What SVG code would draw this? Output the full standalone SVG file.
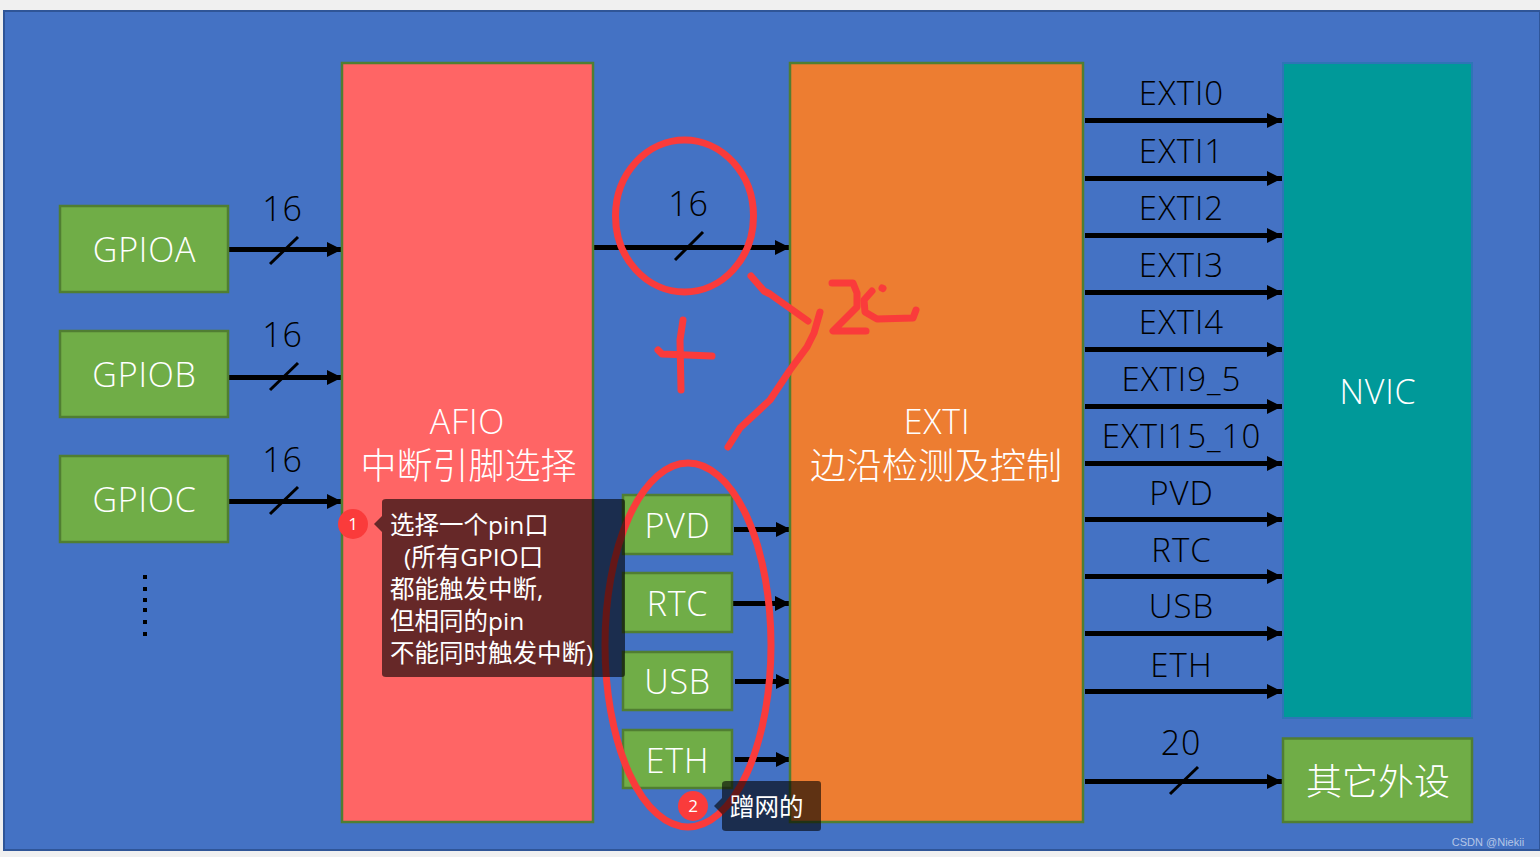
<svg xmlns="http://www.w3.org/2000/svg" width="1540" height="857" viewBox="0 0 1540 857">
<style>
text{font-family:"Open Sans","Noto Sans CJK SC",sans-serif;text-anchor:middle;font-weight:300}
.w{fill:#fff}
.k{fill:#000}
.s32{font-size:33px;letter-spacing:1px}
.s33{font-size:34px;letter-spacing:.8px}
.box{fill:#70ad47;stroke:#507e32;stroke-width:2.500}
.line{fill:none;stroke:#000;stroke-width:5;marker-end:url(#ah)}
.sl{fill:none;stroke:#000;stroke-width:3}
.red{fill:none;stroke:#fa3b3b;stroke-width:7;stroke-linecap:round;stroke-linejoin:round}
.tip{fill:#000;fill-opacity:.6}
.tt{fill:#fff;font-size:24.500px;text-anchor:start;font-weight:400}
.bd{fill:#fa3b3b}
.bt{fill:#fff;font-size:17px;font-weight:400}
</style>
<defs><marker id="ah" markerUnits="userSpaceOnUse" markerWidth="16" markerHeight="16" refX="15" refY="8" orient="auto"><path d="M0 0.500L15 8L0 15.500Z" fill="#000"/></marker></defs>
<rect width="1540" height="857" fill="#f0f0f0"/>
<rect x="4" y="11" width="1536" height="839" fill="#4472c4" stroke="#2f5597" stroke-width="2"/>
<g id="connectors">
<path class="line" d="M229 249.500H342"/><path class="sl" d="M270 264L298 237"/>
<path class="line" d="M229 377.500H342"/><path class="sl" d="M270 390L298 363"/>
<path class="line" d="M229 501.500H342"/><path class="sl" d="M270 514L298 487"/>
<path class="line" d="M593 247.500H790"/><path class="sl" d="M675 260L703 232"/>
<path class="line" d="M734 529.500H791"/><path class="line" d="M733 603.500H790"/><path class="line" d="M735 681.500H791"/><path class="line" d="M735 759.500H791"/>
<path class="line" d="M1085 120.500H1282"/><path class="line" d="M1085 178.500H1282"/><path class="line" d="M1085 235.500H1282"/><path class="line" d="M1085 292.500H1282"/><path class="line" d="M1085 349.500H1282"/><path class="line" d="M1085 406.500H1282"/><path class="line" d="M1085 463.500H1282"/><path class="line" d="M1085 519.500H1282"/><path class="line" d="M1085 576.500H1282"/><path class="line" d="M1085 633.500H1282"/><path class="line" d="M1085 691.500H1282"/><path class="line" d="M1085 781.500H1282"/><path class="sl" d="M1170 794L1198 767"/>
</g>
<g id="labels" class="k">
<text class="s33" x="282.500" y="221">16</text><text class="s33" x="282.500" y="347">16</text><text class="s33" x="282.500" y="472">16</text><text class="s33" x="688.500" y="216">16</text>
<text class="s33" x="1181" y="755">20</text>
</g>
<g id="gpioa"><rect class="box" x="60" y="206" width="168" height="86"/><text class="w s33" x="144.500" y="262">GPIOA</text></g>
<g id="gpiob"><rect class="box" x="60" y="331" width="168" height="86"/><text class="w s33" x="144.500" y="387">GPIOB</text></g>
<g id="gpioc"><rect class="box" x="60" y="456" width="168" height="86"/><text class="w s33" x="144.500" y="512">GPIOC</text></g>
<g id="ellipsis" fill="#000"><rect x="143" y="575" width="4" height="4"/><rect x="143" y="587" width="4" height="4"/><rect x="143" y="598" width="4" height="4"/><rect x="143" y="608" width="4" height="4"/><rect x="143" y="620" width="4" height="4"/><rect x="143" y="632" width="4" height="4"/></g>
<g id="afio"><rect x="342" y="63" width="251" height="759" fill="#ff6565" stroke="#507e32" stroke-width="2.500"/><text class="w s33" x="467.500" y="434">AFIO</text><text class="w" font-size="36" x="468.500" y="479">中断引脚选择</text></g>
<g id="exti"><rect x="790" y="63" width="293" height="759" fill="#ed7d31" stroke="#507e32" stroke-width="2.500"/><text class="w s33" x="937" y="434">EXTI</text><text class="w" font-size="36" x="936" y="479">边沿检测及控制</text></g>
<g id="nvic"><rect x="1283" y="63" width="189" height="655" fill="#009999" stroke="#2e75b6" stroke-width="2"/><text class="w s33" x="1378" y="404">NVIC</text></g>
<g id="other"><rect class="box" x="1283" y="738.500" width="189" height="83.500"/><text class="w" font-size="36" x="1378" y="795">其它外设</text></g>
<g id="pvd"><rect class="box" x="623" y="495" width="109" height="59"/><text class="w s33" x="677.500" y="538">PVD</text></g>
<g id="rtc"><rect class="box" x="623" y="573" width="109" height="59"/><text class="w s33" x="677.500" y="616">RTC</text></g>
<g id="usb"><rect class="box" x="623" y="652" width="109" height="58"/><text class="w s33" x="677.500" y="694">USB</text></g>
<g id="eth"><rect class="box" x="623" y="730" width="109" height="58"/><text class="w s33" x="677.500" y="773">ETH</text></g>
<g id="exti-labels" class="k">
<text class="s32" x="1181.500" y="105">EXTI0</text><text class="s32" x="1181.500" y="163">EXTI1</text><text class="s32" x="1181.500" y="220">EXTI2</text><text class="s32" x="1181.500" y="277">EXTI3</text><text class="s32" x="1181.500" y="334">EXTI4</text><text class="s32" x="1181.500" y="391">EXTI9_5</text><text class="s32" x="1181.500" y="448">EXTI15_10</text><text class="s32" x="1181.500" y="505">PVD</text><text class="s32" x="1181.500" y="562">RTC</text><text class="s32" x="1181.500" y="618">USB</text><text class="s32" x="1181.500" y="677">ETH</text>
</g>
<g id="annotation">
<ellipse class="red" cx="684.500" cy="216" rx="69" ry="76"/>
<ellipse class="red" cx="688" cy="645" rx="83" ry="182"/>
<path class="red" d="M751 276L764 291L770 294L808 321"/>
<path class="red" d="M820 312L814 333L807 347L790 370L770 400L740 428L728 447"/>
<path class="red" d="M683 320L680 340L681 390"/>
<path class="red" d="M658 350L662 354L712 356"/>
<path class="red" d="M832 283L853 283L857 293V307L833 331H866"/>
<path class="red" d="M872 291L864 300L865 312L877 319L913 318L916 310"/>
<path class="red" stroke-width="9" d="M882 288L883 288.500"/>
</g>
<g id="tooltip-1">
<path class="tip" d="M386 499H622Q625 499 625 502V674Q625 677 622 677H386Q382 677 382 674V532L374 524L382 516V502Q382 499 386 499Z"/>
<circle class="bd" cx="353" cy="524" r="15"/><text class="bt" x="353" y="530">1</text>
<text class="tt" x="390" y="534">选择一个pin口</text>
<text class="tt" x="404" y="566">(所有GPIO口</text>
<text class="tt" x="390" y="598">都能触发中断,</text>
<text class="tt" x="390" y="630">但相同的pin</text>
<text class="tt" x="390" y="662">不能同时触发中断)</text>
</g>
<g id="tooltip-2">
<path class="tip" d="M726 781H818Q821 781 821 784V828Q821 831 818 831H726Q722 831 722 828V814L714 806L722 798V784Q722 781 726 781Z"/>
<circle class="bd" cx="693" cy="806" r="15"/><text class="bt" x="693" y="812">2</text>
<text class="tt" x="730" y="816">蹭网的</text>
</g>
<text x="1488" y="846" font-size="11" fill="#ffffff" fill-opacity=".6" style="font-family:'Liberation Sans',sans-serif;font-weight:400">CSDN @Niekii</text>
</svg>
